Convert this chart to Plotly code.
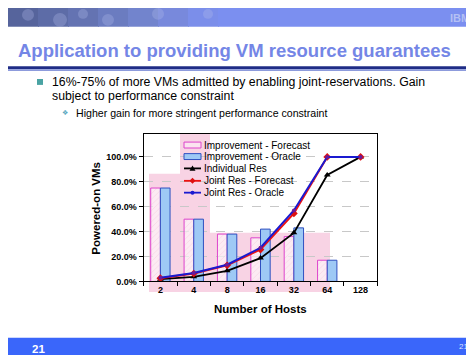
import plotly.graph_objects as go

# ---------------- data ----------------
hosts = ["2", "4", "8", "16", "32", "64", "128"]
improvement_forecast = [0.75, 0.50, 0.38, 0.35, 0.36, 0.17, None]
improvement_oracle = [0.75, 0.50, 0.38, 0.42, 0.43, 0.17, None]
individual_res = [0.018, 0.037, 0.085, 0.187, 0.39, 0.855, 1.0]
joint_forecast = [0.026, 0.063, 0.129, 0.256, 0.546, 1.0, 1.0]
joint_oracle = [0.030, 0.068, 0.134, 0.270, 0.570, 1.0, 1.0]
y_ticks = [0, 0.2, 0.4, 0.6, 0.8, 1.0]

W, H = 474, 355


def X(px):
    return px / W


def Y(py):
    return 1 - py / H


fig = go.Figure()

fig.add_trace(go.Bar(
    x=hosts, y=improvement_forecast, name="Improvement - Forecast",
    marker=dict(color="rgba(255,255,255,0.55)",
                line=dict(color="#dd44cc", width=1),
                pattern=dict(shape="/", fgcolor="#f3b3d3", size=4, solidity=0.15)),
    showlegend=False,
))
fig.add_trace(go.Bar(
    x=hosts, y=improvement_oracle, name="Improvement - Oracle",
    marker=dict(color="#9ec9f5", line=dict(color="#3050c0", width=1)),
    showlegend=False,
))
fig.add_trace(go.Scatter(
    x=hosts, y=individual_res, name="Individual Res", mode="lines+markers",
    line=dict(color="black", width=1.8),
    marker=dict(symbol="triangle-up", size=6, color="black"),
    showlegend=False,
))
fig.add_trace(go.Scatter(
    x=hosts, y=joint_forecast, name="Joint Res - Forecast", mode="lines+markers",
    line=dict(color="#ee1111", width=2),
    marker=dict(symbol="diamond", size=6, color="#dd1111"),
    showlegend=False,
))
fig.add_trace(go.Scatter(
    x=hosts, y=joint_oracle, name="Joint Res - Oracle", mode="lines+markers",
    line=dict(color="#1a1ad0", width=2),
    marker=dict(symbol="circle", size=4, color="#6a1a9a"),
    showlegend=False,
))

shapes = []
annotations = []


def text(t, x, y, size, color="black", weight=400, xanchor="left", family="Arial", angle=0):
    annotations.append(dict(text=t, x=X(x), y=Y(y), xref="paper", yref="paper",
                            xanchor=xanchor, yanchor="middle", showarrow=False,
                            textangle=angle, borderpad=0,
                            font=dict(family=family, size=size, color=color, weight=weight)))


# ---------- slide decoration ----------
banner_cols = ["#56649c", "#5d6ca7", "#6473b2", "#6b7cc0", "#7284cd", "#7889dc", "#7b8eea"]
for i, c in enumerate(banner_cols):
    shapes.append(dict(type="rect", xref="paper", yref="paper",
                       x0=X(i * 30), x1=X(i * 30 + 31), y0=Y(19), y1=Y(0),
                       fillcolor=c, line=dict(width=0), layer="below"))
shapes.append(dict(type="rect", xref="paper", yref="paper",
                   x0=X(210), x1=X(474), y0=Y(19), y1=Y(0),
                   fillcolor="#7b8ff0", line=dict(width=0), layer="below"))
for cx, cy, r in [(20, 7, 6), (52, 12, 7), (75, 6, 5), (100, 12, 6), (150, 6, 6), (200, 6, 5)]:
    shapes.append(dict(type="circle", xref="paper", yref="paper",
                       x0=X(cx - r), x1=X(cx + r), y0=Y(cy + r), y1=Y(cy - r),
                       fillcolor="rgba(180,190,235,0.3)", line=dict(width=0), layer="below"))
text("IBM", 452, 10, 11, color="#b4c0f4", weight=700, xanchor="center")

# title
text("Application to providing VM resource guarantees", 9, 43, 18.5, color="#7486e6", weight=700)
shapes.append(dict(type="rect", xref="paper", yref="paper", x0=0, x1=1, y0=Y(62), y1=Y(59),
                   fillcolor="#1f2c86", line=dict(width=0), layer="below"))
shapes.append(dict(type="rect", xref="paper", yref="paper", x0=0, x1=1, y0=Y(64), y1=Y(62),
                   fillcolor="#8d9bdc", line=dict(width=0), layer="below"))

# bullets
shapes.append(dict(type="rect", xref="paper", yref="paper", x0=X(29), x1=X(35), y0=Y(78), y1=Y(72),
                   fillcolor="#4aa3a3", line=dict(width=0)))
text("16%-75% of more VMs admitted by enabling joint-reservations. Gain", 43, 75, 12.3)
text("subject to performance constraint", 43, 89, 12.3)
text("❖", 57, 106, 7, color="#5aa8c0", xanchor="center", family="DejaVu Sans")
text("Higher gain for more stringent performance constraint", 67, 106, 10.6)

# footer
shapes.append(dict(type="rect", xref="paper", yref="paper", x0=0, x1=1, y0=0, y1=Y(334.5),
                   fillcolor="#3a66fa", line=dict(width=0)))
text("21", 30.5, 345.5, 11.5, color="white", weight=700, xanchor="center")
text("21", 455, 343, 8, color="#dce4ff", xanchor="center")

# hatched artefact areas behind the chart
for x0, x1, y0, y1 in [(141, 172, 168, 288), (172, 202, 127, 288), (202, 322, 228, 288)]:
    shapes.append(dict(type="rect", xref="paper", yref="paper",
                       x0=X(x0), x1=X(x1), y0=Y(y1), y1=Y(y0),
                       fillcolor="#f8d3e4", line=dict(width=0), layer="below"))

# ---------- manual legend ----------
leg_rows = [139, 150.7, 162.7, 175.3, 187.3]
leg_labels = ["Improvement - Forecast", "Improvement - Oracle", "Individual Res",
              "Joint Res - Forecast", "Joint Res - Oracle"]
sx0, sx1 = 176, 193
shapes.append(dict(type="rect", xref="paper", yref="paper", x0=X(sx0), x1=X(sx1),
                   y0=Y(leg_rows[0] + 3), y1=Y(leg_rows[0] - 3),
                   fillcolor="#fbe3ef", line=dict(color="#dd44cc", width=1)))
shapes.append(dict(type="rect", xref="paper", yref="paper", x0=X(sx0), x1=X(sx1),
                   y0=Y(leg_rows[1] + 3), y1=Y(leg_rows[1] - 3),
                   fillcolor="#9ec9f5", line=dict(color="#3050c0", width=1)))
line_cols = ["black", "#ee1111", "#1a1ad0"]
mark_cols = ["black", "#dd1111", "#1a1ad0"]
for i, (row, lc, mc) in enumerate(zip(leg_rows[2:], line_cols, mark_cols)):
    shapes.append(dict(type="line", xref="paper", yref="paper", x0=X(sx0), x1=X(sx1),
                       y0=Y(row), y1=Y(row), line=dict(color=lc, width=1.8)))
    cx = (sx0 + sx1) / 2
    if i == 0:
        path = f"M {X(cx-3)},{Y(row+2.5)} L {X(cx+3)},{Y(row+2.5)} L {X(cx)},{Y(row-3)} Z"
    elif i == 1:
        path = f"M {X(cx-3)},{Y(row)} L {X(cx)},{Y(row-3)} L {X(cx+3)},{Y(row)} L {X(cx)},{Y(row+3)} Z"
    else:
        path = None
    if path:
        shapes.append(dict(type="path", xref="paper", yref="paper", path=path,
                           fillcolor=mc, line=dict(width=0)))
    else:
        shapes.append(dict(type="circle", xref="paper", yref="paper",
                           x0=X(cx - 2), x1=X(cx + 2), y0=Y(row + 2), y1=Y(row - 2),
                           fillcolor=mc, line=dict(width=0)))
for row, lab in zip(leg_rows, leg_labels):
    text(lab, 194.5, row, 10)

# axis titles
text("Number of Hosts", 252.5, 305, 11.5, weight=700, xanchor="center")
text("Powered-on VMs", 88.5, 203, 11.5, weight=700, xanchor="center", angle=-90)

fig.update_layout(
    width=W, height=H,
    margin=dict(l=0, r=0, t=0, b=0),
    paper_bgcolor="white",
    plot_bgcolor="rgba(0,0,0,0)",
    barmode="group", bargap=0.42, bargroupgap=0,
    showlegend=False,
    shapes=shapes,
    annotations=annotations,
    xaxis=dict(domain=[X(135.7), X(369.3)], type="category", categoryorder="array",
               categoryarray=hosts, showline=True, linecolor="black", linewidth=1.2,
               mirror=True, ticks="outside", ticklen=4, tickcolor="black",
               tickson="boundaries", showgrid=False,
               tickfont=dict(family="Arial", size=9, color="black", weight=700)),
    yaxis=dict(domain=[Y(277.3), Y(127.3)], range=[0, 1.188], tickvals=y_ticks,
               tickformat=".1%", showline=True, linecolor="black", linewidth=1.2,
               mirror=True, ticks="outside", ticklen=4, tickcolor="black",
               showgrid=True, gridcolor="#c8c8c8", griddash="dash", gridwidth=0.8,
               zeroline=False,
               tickfont=dict(family="Arial", size=9, color="black", weight=700)),
)

fig.write_html("out.html")
